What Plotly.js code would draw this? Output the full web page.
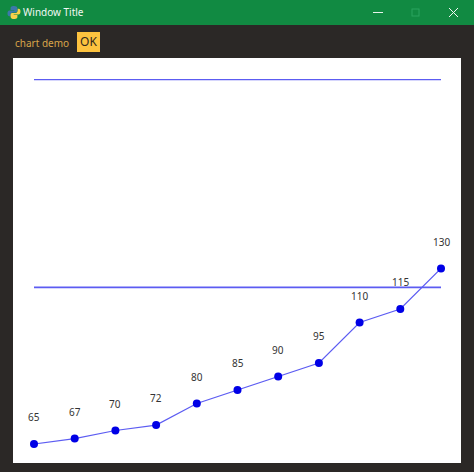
<!DOCTYPE html>
<html>
<head>
<meta charset="utf-8">
<script src="https://cdn.plot.ly/plotly-3.0.1.min.js"></script>
<style>
html,body{margin:0;padding:0;width:474px;height:472px;overflow:hidden;background:#2b2826;font-family:"Noto Sans","Open Sans",sans-serif}
#bar{position:absolute;left:0;top:0;width:474px;height:25px;background:#118a42;color:#fff}
#title{position:absolute;left:23px;top:5px;font-size:10px;line-height:15px;color:#f2f8f4}
#icon{position:absolute;left:7px;top:5px}
.ctl{position:absolute;top:0}
#lab{position:absolute;left:15px;top:35px;font-size:10px;line-height:16px;color:#d9a54a}
#ok{position:absolute;left:77px;top:32px;width:23px;height:20px;background:#fdc33f;color:#33291a;font-size:12px;line-height:20px;text-align:center}
#chart{position:absolute;left:13px;top:58px;width:448px;height:405px;background:#fff}
</style>
</head>
<body>
<div id="bar">
<svg id="icon" width="14" height="15" viewBox="0 0 14 15"><path d="M7 1C4 1 3.6 2 3.6 3.5V5H7.3V5.6H2.5C1 5.6 .5 7 .5 8.5S1 11.3 2.5 11.3H3.7V9.6C3.7 8.3 4.8 7.5 6 7.5H8.6C9.7 7.5 10.4 6.7 10.4 5.6V3.3C10.4 1.8 9 1 7 1Z" fill="#3c78aa"/><path d="M7 14C10 14 10.4 13 10.4 11.5V10H6.7V9.4H11.5C13 9.4 13.5 8 13.5 6.5S13 3.7 11.5 3.7H10.7V5.4C10.7 6.7 9.6 8 8.4 8H5.4C4.3 8 3.6 8.6 3.6 9.7V11.7C3.6 13.2 5 14 7 14Z" fill="#f7d04b"/></svg>
<div id="title">Window Title</div>
<svg class="ctl" style="left:372px" width="14" height="25"><line x1="1" x2="11" y1="12.5" y2="12.5" stroke="#e8f3ec" stroke-width="1"/></svg>
<svg class="ctl" style="left:410px" width="14" height="25"><rect x="2" y="9" width="7" height="7" fill="none" stroke="#2ba35e" stroke-width="1"/></svg>
<svg class="ctl" style="left:448px" width="14" height="25"><path d="M1 8L10 17M10 8L1 17" stroke="#f2f8f4" stroke-width="1" fill="none"/></svg>
</div>
<div id="lab">chart demo</div>
<div id="ok">OK</div>
<div id="chart"></div>
<script>
const categories = [0,1,2,3,4,5,6,7,8,9,10];
const values = [65,67,70,72,80,85,90,95,110,115,130];
const upperLine = [200,200,200,200,200,200,200,200,200,200,200];
const lowerLine = [123,123,123,123,123,123,123,123,123,123,123];
const lineColor = '#5c5cf2';
const traces = [
 {x:categories,y:upperLine,mode:'lines',cliponaxis:false,line:{color:lineColor,width:1.7},hoverinfo:'skip'},
 {x:categories,y:lowerLine,mode:'lines',cliponaxis:false,line:{color:lineColor,width:1.7},hoverinfo:'skip'},
 {x:categories,y:values,mode:'lines+markers',cliponaxis:false,line:{color:lineColor,width:1.2},marker:{color:'#0000e6',size:8}}
];
const annotations = values.map((v,i)=>({x:categories[i],y:v,xref:'x',yref:'y',text:String(v),showarrow:false,yshift:27,
  font:{family:'"Noto Sans","Open Sans",sans-serif',size:10,color:'#333333'}}));
Plotly.newPlot('chart',traces,{
  width:448,height:405,showlegend:false,paper_bgcolor:'#fff',plot_bgcolor:'#fff',
  margin:{l:20.5,r:20,t:21,b:19},
  xaxis:{range:[0,10],visible:false,fixedrange:true},
  yaxis:{range:[65,200.19],visible:false,fixedrange:true},
  annotations:annotations
},{displayModeBar:false,staticPlot:true});
</script>
</body>
</html>
